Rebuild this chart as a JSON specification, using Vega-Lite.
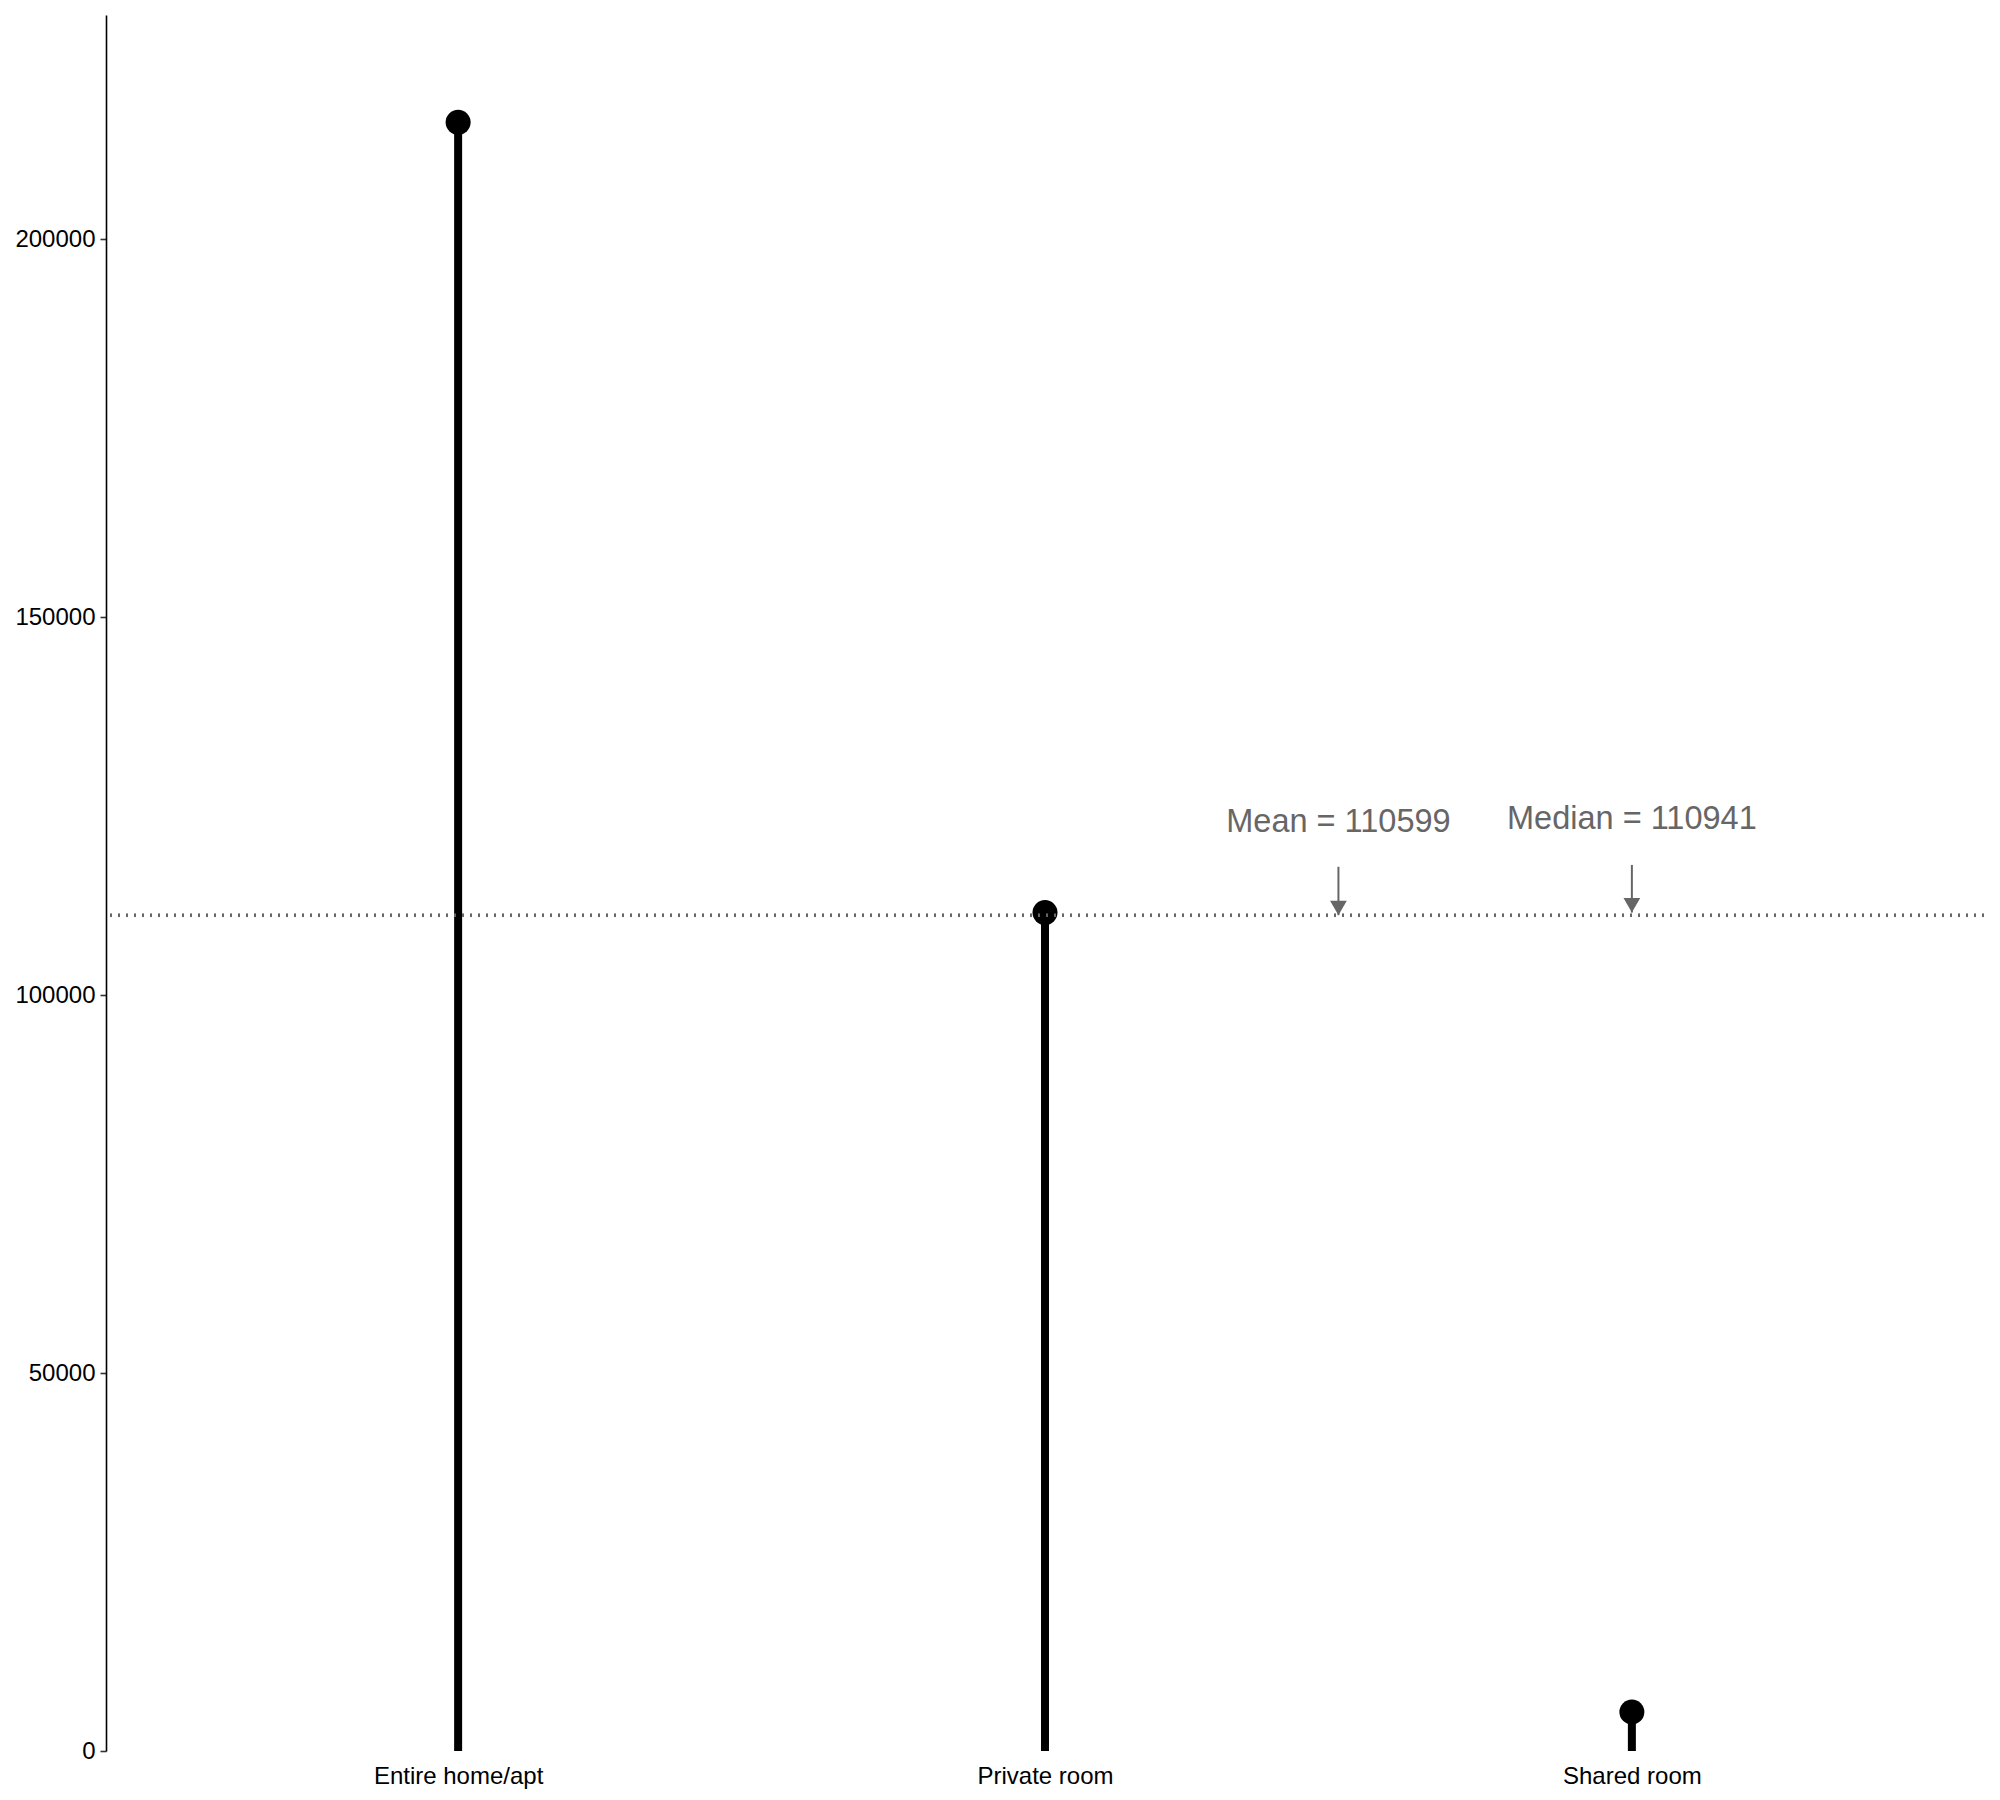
{
  "$schema": "https://vega.github.io/schema/vega-lite/v6.json",
  "width": 1878,
  "height": 1736,
  "autosize": {"type": "none"},
  "padding": {"left": 106, "top": 15, "right": 16, "bottom": 49},
  "background": "white",
  "config": {
    "view": {"stroke": null},
    "font": "Liberation Sans",
    "axis": {"grid": false, "title": null, "labelFont": "Liberation Sans", "labelColor": "#000000", "labelFontSize": 24}
  },
  "datasets": {
    "rooms": [
      {"room_type": "Entire home/apt", "count": 215500},
      {"room_type": "Private room", "count": 110941},
      {"room_type": "Shared room", "count": 5160}
    ],
    "stats": [
      {"label": "Mean = 110599", "pos": 2.5, "value": 110599, "arrow_start": 117000, "label_y": 121570},
      {"label": "Median = 110941", "pos": 3, "value": 110941, "arrow_start": 117240, "label_y": 121970}
    ]
  },
  "layer": [
    {
      "data": {"name": "rooms"},
      "layer": [
        {
          "mark": {"type": "rule", "color": "#000000", "strokeWidth": 8},
          "encoding": {
            "x": {"field": "room_type", "type": "nominal", "sort": null, "scale": {"type": "point", "padding": 0.6},
                  "axis": {"domain": false, "ticks": false, "labelAngle": 0, "labelPadding": 13}},
            "y": {"field": "count", "type": "quantitative", "scale": {"domain": [0, 229700], "nice": false, "zero": true},
                  "axis": {"values": [0, 50000, 100000, 150000, 200000], "format": "d", "domainColor": "#000000", "domainWidth": 1.6,
                           "tickSize": 6, "tickColor": "#333333", "tickWidth": 1.6, "labelPadding": 5}},
            "y2": {"datum": 0}
          }
        },
        {
          "mark": {"type": "point", "shape": "circle", "filled": true, "color": "#000000", "opacity": 1, "size": 625},
          "encoding": {
            "x": {"field": "room_type", "type": "nominal", "sort": null},
            "y": {"field": "count", "type": "quantitative"}
          }
        },
        {
          "mark": {"type": "rule", "color": "#666666", "strokeWidth": 3, "strokeDash": [2, 6]},
          "encoding": {"y": {"datum": 110599}}
        }
      ]
    },
    {
      "data": {"name": "stats"},
      "layer": [
        {
          "mark": {"type": "rule", "color": "#666666", "strokeWidth": 2},
          "encoding": {
            "x": {"field": "pos", "type": "quantitative", "scale": {"domain": [0.4, 3.6], "nice": false, "zero": false}, "axis": null},
            "y": {"field": "arrow_start", "type": "quantitative"},
            "y2": {"field": "value"}
          }
        },
        {
          "mark": {"type": "point", "shape": "triangle-down", "filled": true, "color": "#666666", "opacity": 1, "size": 280, "yOffset": -7.2},
          "encoding": {
            "x": {"field": "pos", "type": "quantitative", "scale": {"domain": [0.4, 3.6], "nice": false, "zero": false}, "axis": null},
            "y": {"field": "value", "type": "quantitative"}
          }
        },
        {
          "mark": {"type": "text", "color": "#666666", "fontSize": 32.5, "align": "center", "baseline": "alphabetic", "font": "Liberation Sans"},
          "encoding": {
            "x": {"field": "pos", "type": "quantitative", "scale": {"domain": [0.4, 3.6], "nice": false, "zero": false}, "axis": null},
            "y": {"field": "label_y", "type": "quantitative"},
            "text": {"field": "label", "type": "nominal"}
          }
        }
      ]
    }
  ],
  "resolve": {"scale": {"x": "independent"}}
}
